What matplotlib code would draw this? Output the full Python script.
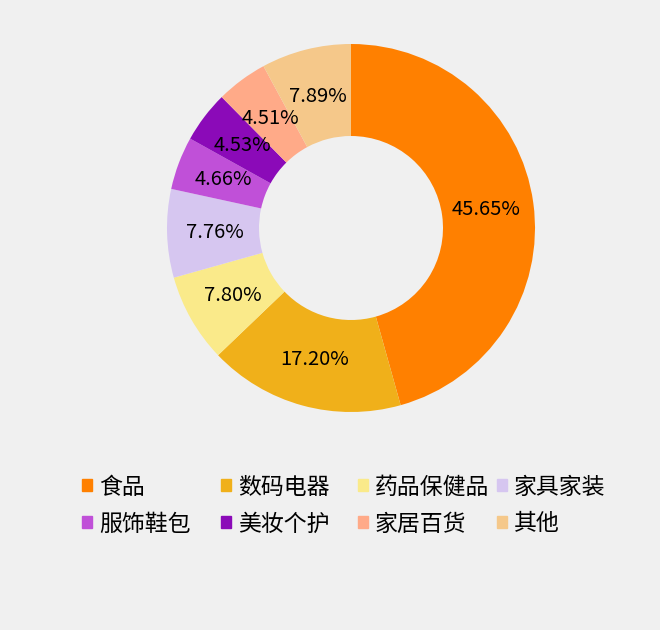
import matplotlib.pyplot as plt
from matplotlib.patches import Patch

plt.rcParams['font.family'] = ['Noto Sans CJK SC', 'DejaVu Sans']

labels = ['食品', '数码电器', '药品保健品', '家具家装', '服饰鞋包', '美妆个护', '家居百货', '其他']
values = [45.65, 17.20, 7.80, 7.76, 4.66, 4.53, 4.51, 7.89]
colors = ['#ff8000', '#f0b01a', '#faea8a', '#d6c6f0', '#c050d8', '#8b0ab8', '#ffaa88', '#f5c88a']

bg = '#f0f0f0'
fig = plt.figure(figsize=(6.6, 6.3), dpi=100, facecolor=bg)
ax = fig.add_axes([167 / 660, 218 / 630, 368 / 660, 368 / 630])
ax.set_facecolor(bg)

wedges, texts, autotexts = ax.pie(values, colors=colors, startangle=90, counterclock=False,
                                  autopct='%.2f%%', pctdistance=0.74, radius=1.0,
                                  wedgeprops=dict(width=0.5, linewidth=0))
for t in autotexts:
    t.set_fontsize(14.5)
    t.set_color('black')
ax.set_xlim(-1, 1)
ax.set_ylim(-1, 1)
ax.set_aspect('equal')
ax.axis('off')

# legend: 4 columns of equal width, filled row by row
col_x = [82, 221, 358, 497]
for j, x in enumerate(col_x):
    idx = [j, j + 4]
    leg = fig.legend([Patch(color=colors[i]) for i in idx], [labels[i] for i in idx],
                     loc='upper left', bbox_to_anchor=(x / 660, 1 - 475.5 / 630),
                     frameon=False, fontsize=16.5, handlelength=0.44, handleheight=0.44,
                     handletextpad=0.3, labelspacing=0.61, borderpad=0, borderaxespad=0)

fig.savefig('out.png', dpi=100, facecolor=bg)
